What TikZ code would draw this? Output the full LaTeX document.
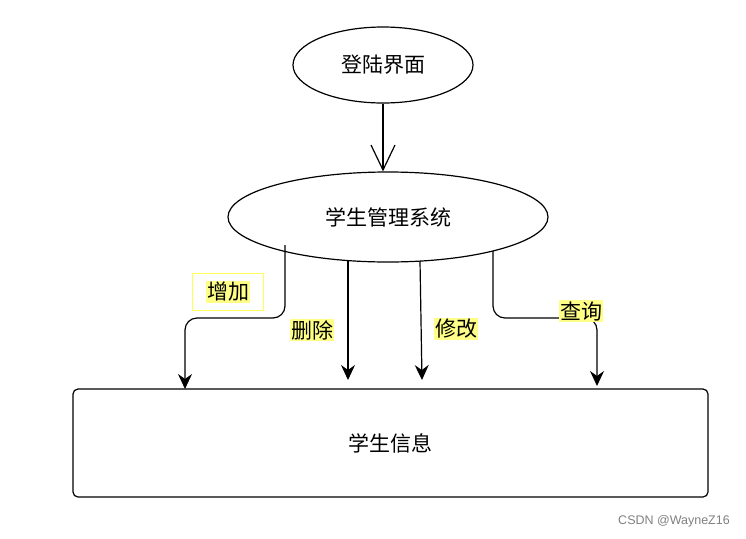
\documentclass[tikz,border=0pt]{standalone}
\usepackage{fontspec}
\setmainfont{Noto Sans CJK SC}
\newfontfamily\markfont{Liberation Sans}
\usetikzlibrary{shapes.geometric,arrows.meta}
\definecolor{hlyellow}{HTML}{FFFF88}
\definecolor{tagframe}{HTML}{FFFF55}
\setlength{\fboxsep}{1pt}

\begin{document}
\begin{tikzpicture}[x=1pt, y=-1pt, line width=1.2pt,
    every node/.style={font=\fontsize{21}{24}\selectfont},
    oval/.style={draw, ellipse, inner sep=0pt},
    flow/.style={-{Stealth[length=15pt,width=14pt,inset=5pt]}, rounded corners=12pt},
    tag/.style={fill=hlyellow, inner sep=1pt}]
    \useasboundingbox (0,0) rectangle (746,538);

    % Ovals
    \node[oval, minimum width=180, minimum height=76] (login) at (383,65) {登陆界面};
    \node[oval, minimum width=320, minimum height=90] (sys) at (388,217) {学生管理系统};

    % Target box
    \node[draw, rounded corners=5pt, minimum width=635, minimum height=108] (info) at (390.5,443) {学生信息};

    % Login to system
    \draw[-{Straight Barb[length=25pt,width=24pt]}] (login.south) -- (login.south |- sys.north);

    % Connector ends
    \coordinate (addout) at (285,245);
    \coordinate (addin) at (185,389);
    \coordinate (delout) at (348,261);
    \coordinate (delin) at (348,380);
    \coordinate (modout) at (420,261);
    \coordinate (modin) at (422,380);
    \coordinate (findout) at (493,251);
    \coordinate (findin) at (597,386);

    % Operations
    \draw[flow] (addout) -- (285,318) -- (185,318) -- (addin);
    \draw[flow] (delout) -- (delin);
    \draw[flow] (modout) -- (modin);
    \draw[flow] (findout) -- (493,318) -- (597,318) -- (findin);

    % Labels
    \node[draw=tagframe, line width=1.2pt, minimum width=71, minimum height=37, inner sep=0pt] (addtag) at (228,292) {\colorbox{hlyellow}{增加}};
    \node[tag] (deltag) at (312,330) {删除};
    \node[tag] (modtag) at (456,329) {修改};
    \node[tag] (findtag) at (581,311) {查询};

    % Watermark
    \node[font=\markfont\fontsize{12.5}{15}\selectfont, text=gray] (mark) at (674,521) {CSDN @WayneZ16};
\end{tikzpicture}
\end{document}
